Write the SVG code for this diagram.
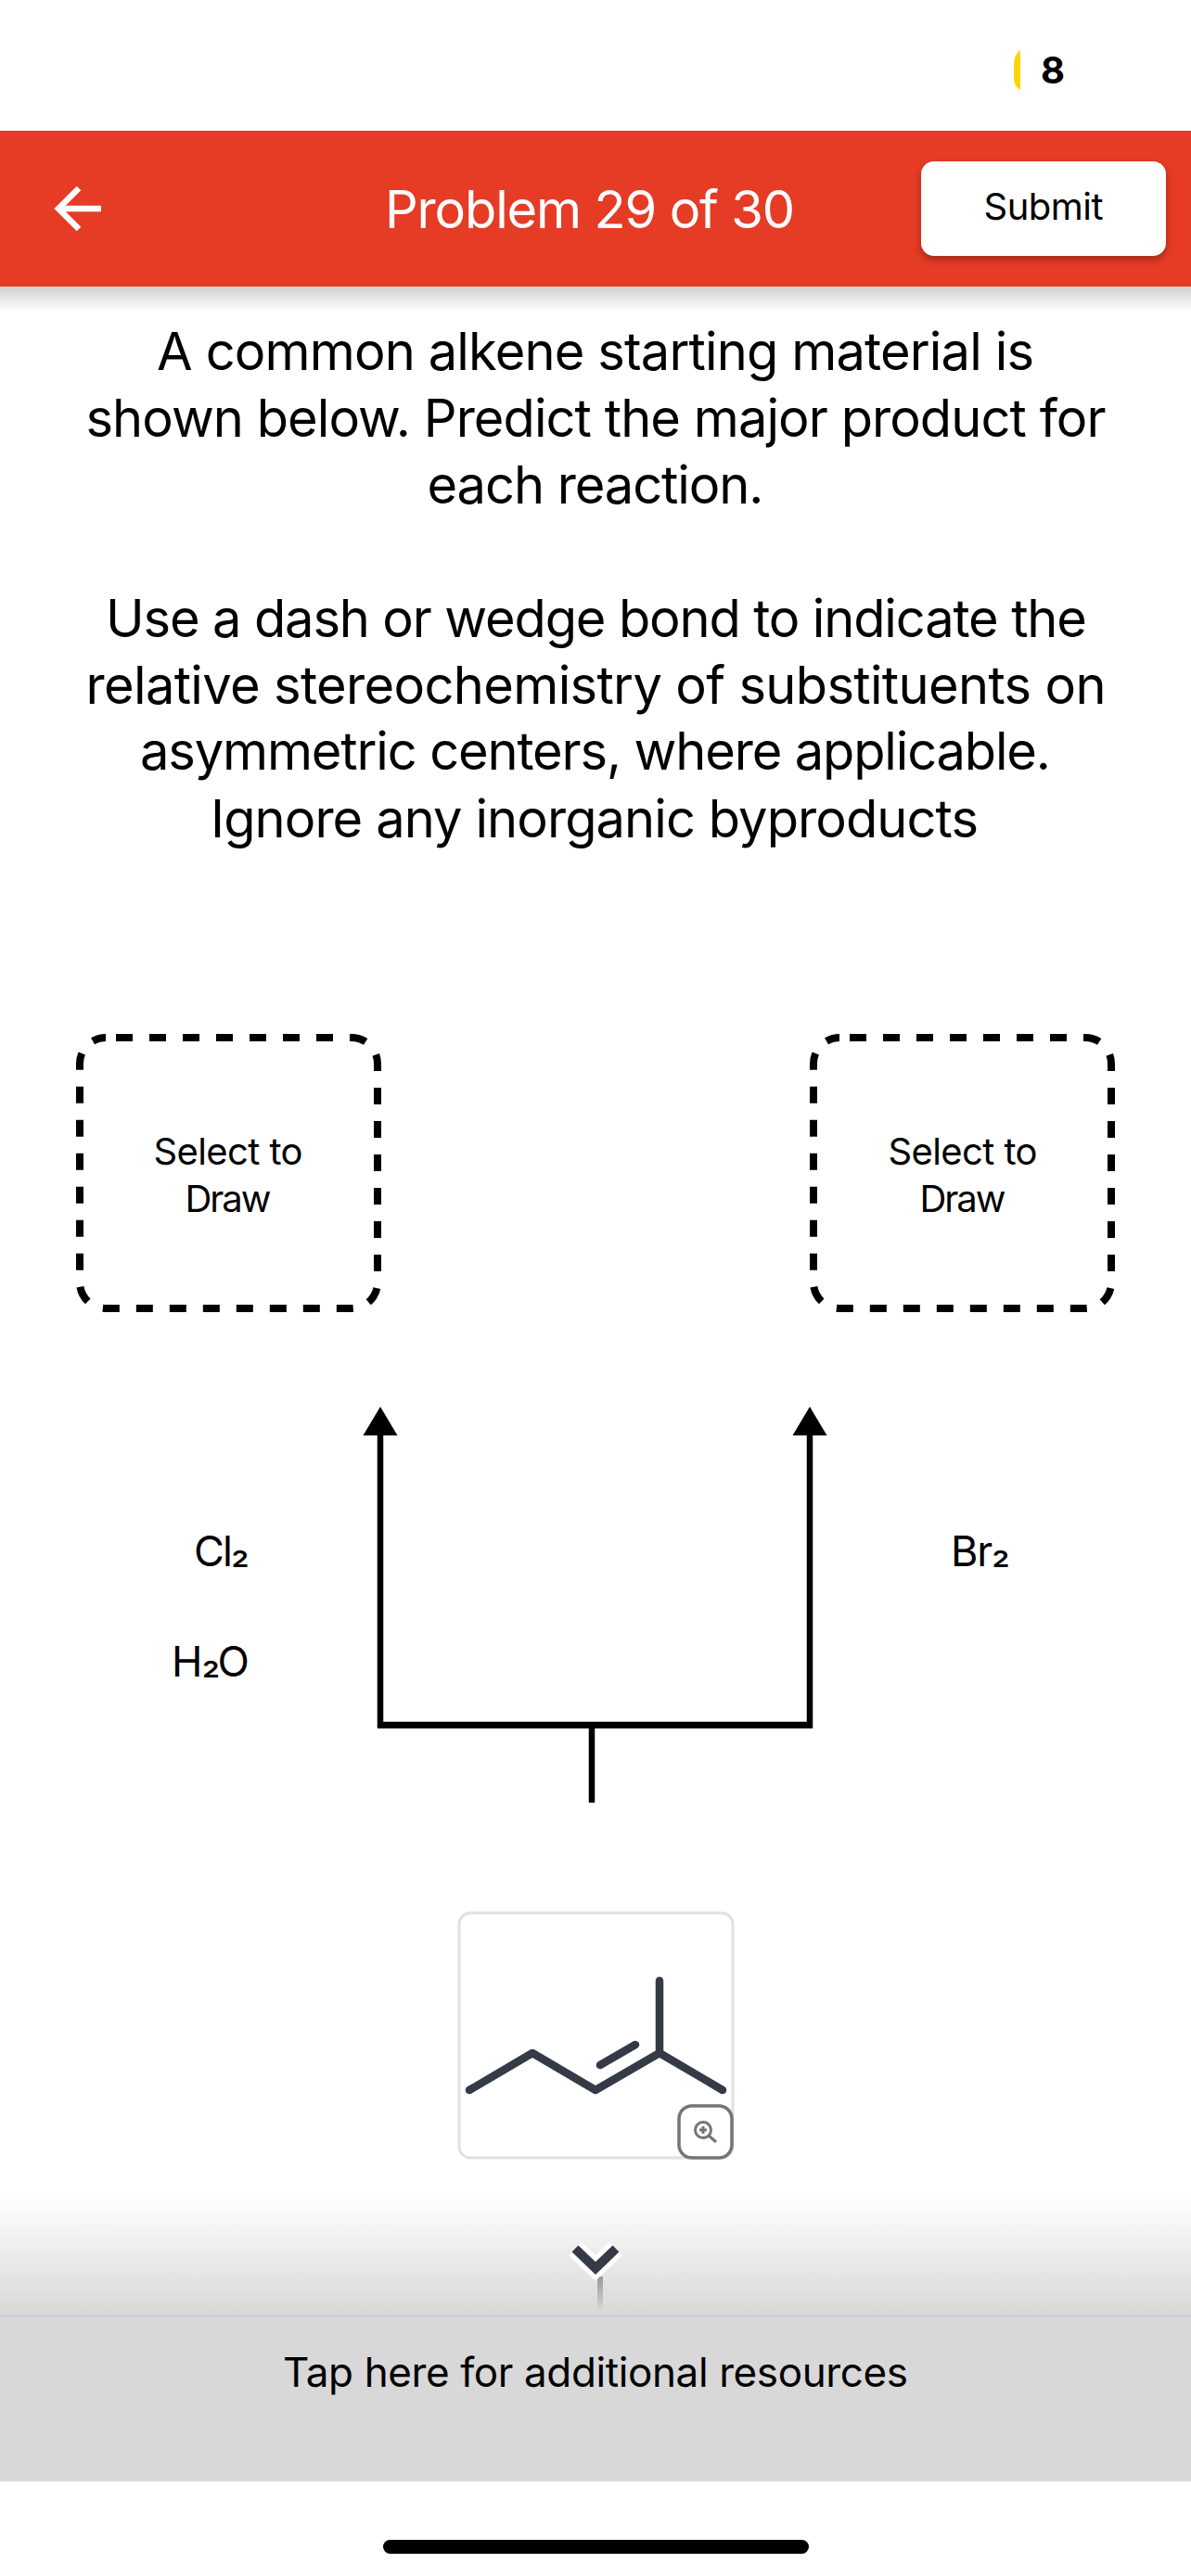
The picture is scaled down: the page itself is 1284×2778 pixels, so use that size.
<svg xmlns="http://www.w3.org/2000/svg" width="1284" height="2778" viewBox="0 0 1284 2778">
<style>
text{font-family:"Inter","Liberation Sans",sans-serif;fill:#000}
.b{font-size:56px;text-anchor:middle}
.s{font-size:40px;text-anchor:middle}
.r{font-size:45px}
.dash{fill:none;stroke:#000;stroke-width:8;stroke-dasharray:18 18;stroke-dashoffset:25}
.c{fill:none;stroke:#000;stroke-width:6.5}
.m{fill:none;stroke:#343a46;stroke-width:8.5;stroke-linecap:round;stroke-linejoin:round}
</style>
<defs>
<linearGradient id="sh" x1="0" y1="0" x2="0" y2="1"><stop offset="0" stop-color="#000" stop-opacity=".18"/><stop offset="1" stop-color="#000" stop-opacity="0"/></linearGradient>
<linearGradient id="fade" x1="0" y1="0" x2="0" y2="1"><stop offset="0" stop-color="#fff"/><stop offset="1" stop-color="#d8d8d8"/></linearGradient>
<linearGradient id="tick" x1="0" y1="0" x2="0" y2="1"><stop offset="0" stop-color="#999"/><stop offset="1" stop-color="#ddd"/></linearGradient>
<filter id="blur" x="-10%" y="-20%" width="120%" height="150%"><feGaussianBlur stdDeviation="4"/></filter>
</defs>
<rect width="1284" height="2778" fill="#fff"/>
<g id="status">
<path d="M1100 54C1095 58 1093 64 1093 70V84C1093 90 1095 94 1100 97Z" fill="#ffd400"/>
<text x="1135" y="90" font-size="40" font-weight="700" text-anchor="middle">8</text>
</g>
<g id="header">
<rect y="309" width="1284" height="28" fill="url(#sh)"/>
<rect y="141" width="1284" height="168" fill="#e63b25"/>
<path d="M109 225H64M85 203L63 225L85 247" fill="none" stroke="#fff" stroke-width="6.5"/>
<text x="636" y="246" font-size="56" text-anchor="middle" textLength="442" style="fill:#fff">Problem 29 of 30</text>
<rect x="993" y="178" width="264" height="102" rx="14" fill="#000" opacity=".3" filter="url(#blur)"/>
<rect x="993" y="174" width="264" height="102" rx="14" fill="#fff"/>
<text x="1125" y="237" font-size="40" text-anchor="middle" textLength="129">Submit</text>
</g>
<g id="question">
<text class="b" x="642" y="399" textLength="946">A common alkene starting material is</text>
<text class="b" x="642.5" y="471" textLength="1100">shown below. Predict the major product for</text>
<text class="b" x="642" y="543" textLength="363">each reaction.</text>
<text class="b" x="643" y="687" textLength="1058">Use a dash or wedge bond to indicate the</text>
<text class="b" x="642.5" y="759" textLength="1100">relative stereochemistry of substituents on</text>
<text class="b" x="642" y="830" textLength="982">asymmetric centers, where applicable.</text>
<text class="b" x="641" y="903" textLength="828">Ignore any inorganic byproducts</text>
</g>
<g id="draw-left">
<rect class="dash" x="86" y="1119" width="321" height="292" rx="28"/>
<text class="s" x="246" y="1256" textLength="161">Select to</text>
<text class="s" x="246" y="1307" textLength="93">Draw</text>
</g>
<g id="draw-right">
<rect class="dash" x="877" y="1119" width="321" height="292" rx="28"/>
<text class="s" x="1038" y="1256" textLength="161">Select to</text>
<text class="s" x="1038" y="1307" textLength="93">Draw</text>
</g>
<g id="connectors">
<path class="c" d="M410 1545V1860H873V1545"/>
<path d="M407 1857H876V1864H407Z" fill="#000"/>
<path class="c" d="M638 1860V1944"/>
<path d="M410 1517L391.5 1548H428.5Z" fill="#000"/>
<path d="M873 1517L854.5 1548H891.5Z" fill="#000"/>
</g>
<g id="reagent-left">
<text class="r" x="209" y="1689" textLength="60">Cl<tspan dy="-6">₂</tspan></text>
<text class="r" x="185" y="1808" textLength="84">H<tspan dy="-6">₂</tspan><tspan dy="6">O</tspan></text>
</g>
<g id="reagent-right">
<text class="r" x="1025" y="1689" textLength="64">Br<tspan dy="-6">₂</tspan></text>
</g>
<g id="molecule">
<rect x="495" y="2063" width="295" height="264" rx="12" fill="#fff" stroke="#e0e0e0" stroke-width="3"/>
<path class="m" d="M506 2254L574 2214L642 2254L711 2214L779 2254M711 2214V2136M647 2227L685 2205"/>
<rect x="732" y="2271" width="57" height="56" rx="14" fill="#fff" stroke="#757575" stroke-width="3.5"/>
<circle cx="758" cy="2297" r="8.5" fill="none" stroke="#757575" stroke-width="3"/>
<path d="M764 2303L772 2310M754 2297H762M758 2293V2301" fill="none" stroke="#757575" stroke-width="3"/>
</g>
<g id="resources">
<rect y="2367" width="1284" height="130" fill="url(#fade)"/>
<rect x="644" y="2455" width="6" height="40" fill="url(#tick)"/>
<path d="M620 2425L642 2446L664 2425" fill="none" stroke="#fff" stroke-width="20"/>
<path d="M620 2425L642 2446L664 2425" fill="none" stroke="#343a46" stroke-width="10"/>
<rect y="2496" width="1284" height="3" fill="#cdcfdc"/>
<rect y="2499" width="1284" height="177" fill="#d8d8d8"/>
<text x="642" y="2574" font-size="44" text-anchor="middle" textLength="674">Tap here for additional resources</text>
</g>
<g id="home">
<rect x="413" y="2739" width="459" height="15" rx="7.5" fill="#000"/>
</g>
</svg>
